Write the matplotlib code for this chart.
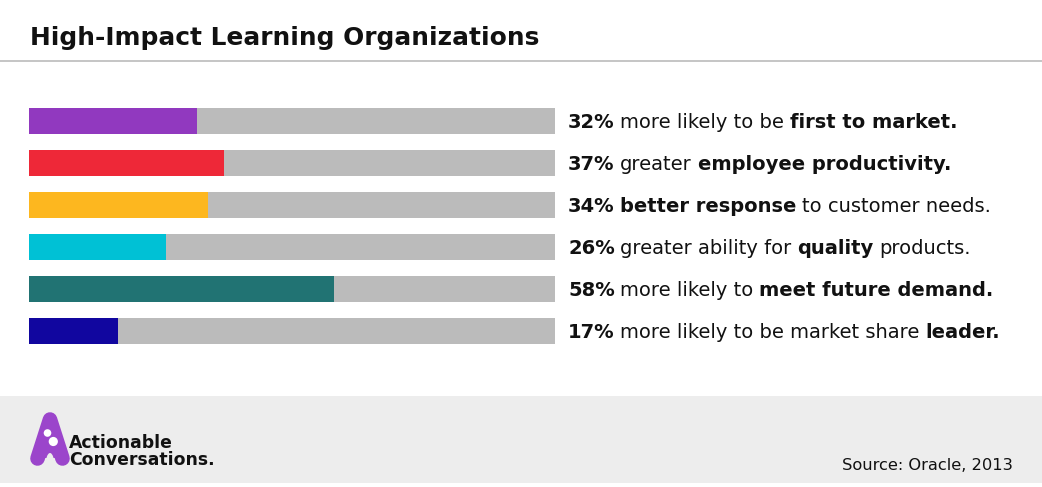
import matplotlib
matplotlib.use("Agg")
import matplotlib.pyplot as plt
from matplotlib.patches import Rectangle, Circle, Polygon, Ellipse

# ---- data ----
values = [32, 37, 34, 26, 58, 17]
colors = ["#9139BF", "#EE2838", "#FDB71F", "#00C1D5", "#217373", "#11069F"]
# label pieces: (text, bold?)
labels = [
    [("32%", True), ("more likely to be", False), ("first to market.", True)],
    [("37%", True), ("greater", False), ("employee productivity.", True)],
    [("34%", True), ("better response", True), ("to customer needs.", False)],
    [("26%", True), ("greater ability for", False), ("quality", True), ("products.", False)],
    [("58%", True), ("more likely to", False), ("meet future demand.", True)],
    [("17%", True), ("more likely to be market share", False), ("leader.", True)],
]
title = "High-Impact Learning Organizations"
source = "Source: Oracle, 2013"
brand = ["Actionable", "Conversations."]

W, H = 1042, 487
FONT = "DejaVu Sans"
fig = plt.figure(figsize=(W / 100, H / 100), dpi=100)
fig.patch.set_facecolor("white")

# background axes in pixel coordinates
bg = fig.add_axes([0, 0, 1, 1], zorder=0)
bg.set_xlim(0, W)
bg.set_ylim(H, 0)
bg.axis("off")

bg.text(30, 45, title, fontsize=17.9, fontweight="bold", family=FONT,
        color="#111111", va="baseline", ha="left")
bg.plot([0, W], [60.5, 60.5], color="#BBBBBB", lw=1.2)

# footer band
bg.add_patch(Rectangle((0, 396), W, 87, color="#EDEDED", lw=0, zorder=0))
bg.text(1013, 470, source, fontsize=11.7, family=FONT, color="#111111",
        ha="right", va="baseline")

# logo
purple = "#9B45CB"
bg.plot([37.5, 50, 62.5], [458.5, 419.5, 458.5], color=purple, lw=10.5,
        solid_capstyle="round", solid_joinstyle="round", zorder=2)
bg.add_patch(Polygon([[38, 458], [50, 421], [62, 458]], closed=True, color=purple, lw=0, zorder=2))
bg.add_patch(Ellipse((50, 466), 9, 26, color="#EDEDED", lw=0, zorder=3))
bg.add_patch(Circle((47.5, 433), 3.8, color="white", lw=0, zorder=3))
bg.add_patch(Circle((53.3, 441.5), 4.6, color="white", lw=0, zorder=3))
bg.text(69, 448, brand[0], fontsize=12.4, fontweight="bold", family=FONT,
        color="#111111", va="baseline")
bg.text(69, 465, brand[1], fontsize=12.4, fontweight="bold", family=FONT,
        color="#111111", va="baseline")

# bars axes
x0, x1 = 29, 555
top, rowh = 100, 42
n = len(values)
ax = fig.add_axes([x0 / W, 1 - (top + rowh * n) / H, (x1 - x0) / W, rowh * n / H], zorder=1)
ax.set_xlim(0, 100)
ax.set_ylim(n - 0.5, -0.5)
ax.axis("off")
ypos = list(range(n))
bh = 26.7 / rowh
ax.barh(ypos, [100] * n, height=bh, color="#BBBBBB", lw=0)
ax.barh(ypos, values, height=bh, color=colors, lw=0)

# labels with mixed weights
renderer = fig.canvas.get_renderer()
fs = 14.0


def width_of(s, weight):
    t = bg.text(0, 0, s, fontsize=fs, fontweight=weight, family=FONT)
    w = t.get_window_extent(renderer).width
    t.remove()
    return w


def advance(s, weight):
    return width_of(s + "l", weight) - width_of("l", weight)


space = 0.9 * (width_of("l l", "normal") - width_of("ll", "normal"))

for i, pieces in enumerate(labels):
    x = 568
    yb = top + rowh * i + 21 + 7
    for j, (s, b) in enumerate(pieces):
        wgt = "bold" if b else "normal"
        bg.text(x, yb, s, fontsize=fs, fontweight=wgt, family=FONT,
                color="#111111", va="baseline", ha="left")
        x += advance(s, wgt) + space

fig.savefig("out.png", dpi=100, facecolor="white")
